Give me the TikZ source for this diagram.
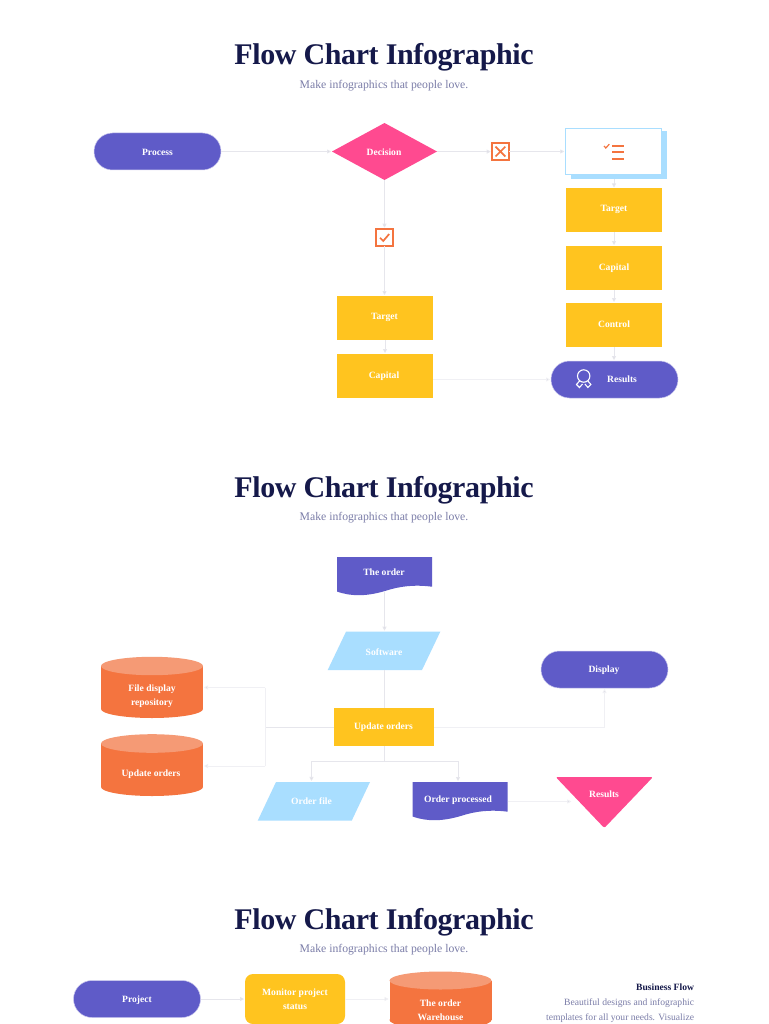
\documentclass[tikz,border=0pt]{standalone}
\usepackage{fontspec}
\setmainfont{Liberation Serif}
\newfontfamily\titlefont[LetterSpace=-1.3]{Liberation Serif Bold}
\usetikzlibrary{arrows.meta}
\definecolor{cpurple}{HTML}{5F5BC8}
\definecolor{cpurpleb}{HTML}{C9C7EE}
\definecolor{cpink}{HTML}{FF4A90}
\definecolor{cyellow}{HTML}{FFC41F}
\definecolor{cblue}{HTML}{A9DEFF}
\definecolor{corange}{HTML}{F4743F}
\definecolor{corangel}{HTML}{F59A75}
\definecolor{cnavy}{HTML}{15194A}
\definecolor{csub}{HTML}{7B7DA8}
\definecolor{cline}{HTML}{E6E6EC}
\definecolor{clinef}{HTML}{F0F0F4}
\definecolor{ctip}{HTML}{DADAE2}
\tikzset{
  x=1pt,y=-1pt,
  every node/.style={inner sep=0pt,outer sep=0pt},
  maintitle/.style={anchor=base,text=cnavy,font=\titlefont\fontsize{30}{36}\selectfont},
  subtitle/.style={anchor=base,text=csub,font=\fontsize{11.7}{14}\selectfont},
  lbl/.style={text=white,align=center,yshift=-1.2pt,font=\bfseries\fontsize{9.6}{14}\selectfont},
  pill/.style={rectangle,rounded corners=18.5pt,fill=cpurple,draw=cpurpleb,line width=.5pt,minimum width=127pt,minimum height=37pt},
  ybox/.style={rectangle,fill=cyellow,minimum width=96pt,minimum height=44pt},
  ghost/.style={rectangle},
  iconbox/.style={rectangle,draw=corange,fill=white,line width=1.9pt,minimum size=17.5pt},
  iconline/.style={draw=corange,line width=1.7pt},
  conn/.style={draw=cline,line width=.8pt,shorten >=1pt,-{Triangle[length=4pt,width=4pt,fill=ctip]}},
  connf/.style={draw=clinef,line width=.8pt,shorten >=1pt,-{Triangle[length=4pt,width=4pt,fill=ctip]}},
  plain/.style={draw=cline,line width=.8pt},
  plainf/.style={draw=clinef,line width=.8pt},
}
\begin{document}
\begin{tikzpicture}
\useasboundingbox (0,0) rectangle (768,1024);
\clip (0,0) rectangle (768,1024);
\fill[white] (0,0) rectangle (768,1024);

% ---------- section 1
\node[maintitle] (t1) at (384,65) {Flow Chart Infographic};
\node[subtitle] (s1) at (384,88.5) {Make infographics that people love.};

\node[pill] (process) at (157.5,151.5) {};
\node[lbl] (processt) at (157.5,151) {Process};
\fill[cpink] (332,151.5) -- (384.5,123) -- (437,151.5) -- (384.5,180) -- cycle;
\node[ghost,minimum width=105pt,minimum height=57pt] (decision) at (384.5,151.5) {};
\node[lbl] (decisiont) at (384,151.5) {Decision};
\node[iconbox] (xbox) at (500.4,151.6) {};
\draw[iconline] (495.5,146.7) -- (505.3,156.5) (505.3,146.7) -- (495.5,156.5);
\node[rectangle,fill=cblue,minimum width=96pt,minimum height=48pt] (cardshadow) at (619,155.5) {};
\node[rectangle,fill=white,draw=cblue,line width=.9pt,minimum width=96.5pt,minimum height=46pt] (card) at (613.5,151.5) {};
\draw[iconline,line width=1.2pt] (604,146) -- (605.8,148) -- (609.3,144.2);
\draw[iconline] (612,145.8) -- (624,145.8) (612,152.3) -- (624,152.3) (612,159) -- (624,159);
\node[ybox] (r1) at (614,210.5) {};
\node[lbl] (r1t) at (614,208.5) {Target};
\node[ybox] (r2) at (614,268) {};
\node[lbl] (r2t) at (614,266.5) {Capital};
\node[ybox] (r3) at (614,325) {};
\node[lbl] (r3t) at (614,323.5) {Control};
\node[pill] (results1) at (614.5,379.5) {};
\node[lbl] (results1t) at (622,378.5) {Results};
\draw[white,line width=1.1pt] (583.7,376) circle[radius=6.2];
\draw[white,line width=1.1pt] (579.5,381) -- (576.5,384.5) -- (579.5,387.5) -- (582.5,384) (587.9,381) -- (590.9,384.5) -- (587.9,387.5) -- (584.9,384);
\node[iconbox] (cbox) at (384.5,237.5) {};
\draw[iconline] (380,237.8) -- (383.2,241) -- (389.2,234);
\node[ybox] (l1) at (385,318) {};
\node[lbl] (l1t) at (384.5,316.5) {Target};
\node[ybox] (l2) at (385,376) {};
\node[lbl] (l2t) at (384,375) {Capital};

\draw[conn] (process.east) -- (decision.west);
\draw[conn] (decision.east) -- (xbox.west);
\draw[conn] (xbox.east) -- (card.west);
\draw[conn] (cardshadow.south -| r1.north) -- (r1.north);
\draw[conn] (r1.south) -- (r2.north);
\draw[conn] (r2.south) -- (r3.north);
\draw[conn] (r3.south) -- (r3.south |- results1.north);
\draw[conn] (decision.south) -- (cbox.north);
\draw[conn] (cbox.south) -- (cbox.south |- l1.north);
\draw[conn] (l1.south) -- (l2.north);
\draw[connf] (l2.east |- results1.west) -- (results1.west);

% ---------- section 2
\node[maintitle] (t2) at (384,497.5) {Flow Chart Infographic};
\node[subtitle] (s2) at (384,520.5) {Make infographics that people love.};

\fill[cpurple] (337,557) -- (432,557) -- (432,586.7) .. controls (415,584.5) and (400,586) .. (385,591) .. controls (368,596) and (352,597) .. (337,591.5) -- cycle;
\node[ghost,minimum width=95pt,minimum height=34pt] (order) at (384.5,574) {};
\node[lbl] (ordert) at (384,571.5) {The order};
\fill[cblue] (346,631.7) -- (440.3,631.7) -- (422,670) -- (327.7,670) -- cycle;
\node[ghost,minimum width=112pt,minimum height=38.3pt] (soft) at (384,650.8) {};
\node[lbl] (softt) at (384,650.5) {Software};

\fill[corange] (152,709) ellipse[x radius=51,y radius=9];
\fill[corange] (101,666) rectangle (203,709);
\fill[corangel] (152,666) ellipse[x radius=51,y radius=9.2];
\node[ghost,minimum width=102pt,minimum height=43pt] (cyl1) at (152,687.5) {};
\node[lbl] (cyl1t) at (152,695) {File display\\repository};
\fill[corange] (152,787) ellipse[x radius=51,y radius=9];
\fill[corange] (101,743.5) rectangle (203,787);
\fill[corangel] (152,743.5) ellipse[x radius=51,y radius=9.3];
\node[ghost,minimum width=102pt,minimum height=44pt] (cyl2) at (152,766) {};
\node[lbl] (cyl2t) at (151,773) {Update orders};

\node[rectangle,fill=cyellow,minimum width=100.3pt,minimum height=38.7pt] (update) at (384.2,727) {};
\node[lbl] (updatet) at (383.5,725.5) {Update orders};
\node[pill] (display) at (604.5,669.5) {};
\node[lbl] (displayt) at (604,669) {Display};

\fill[cblue] (276,782) -- (370,782) -- (351.7,820.7) -- (257.7,820.7) -- cycle;
\node[ghost,minimum width=112pt,minimum height=38.7pt] (ofile) at (311.5,801.3) {};
\node[lbl] (ofilet) at (311.5,800) {Order file};

\fill[cpurple] (412.7,782) -- (507.7,782) -- (507.7,811.7) .. controls (490.7,809.5) and (475.7,811) .. (460.7,816) .. controls (443.7,821) and (427.7,822) .. (412.7,816.5) -- cycle;
\node[ghost,minimum width=95pt,minimum height=39pt] (oproc) at (460.2,801.5) {};
\node[lbl] (oproct) at (458,799) {Order processed};

\fill[cpink,rounded corners=2pt] (555.7,777) -- (653,777) -- (604.3,828) -- cycle;
\node[ghost,minimum width=64pt,minimum height=48pt] (tri) at (604.3,801.5) {};
\node[lbl] (trit) at (604,793.5) {Results};

\draw[conn] (order.south) -- (order.south |- soft.north);
\draw[plain] (soft.south) -- (soft.south |- update.north);
\coordinate (jl) at (265,727);
\draw[plain] (update.west) -- (jl);
\draw[plainf] (jl) -- (jl |- cyl1.east);
\draw[connf] (jl |- cyl1.east) -- (cyl1.east);
\draw[plainf] (jl) -- (jl |- cyl2.east);
\draw[connf] (jl |- cyl2.east) -- (cyl2.east);
\draw[connf] (update.east) -| (display.south);
\coordinate (jb) at (384.2,761.5);
\draw[plain] (update.south) -- (jb);
\draw[conn] (jb) -| (ofile.north);
\draw[conn] (jb) -| (oproct.north |- oproc.north);
\draw[connf] (oproc.east) -- (tri.west);

% ---------- section 3
\node[maintitle] (t3) at (384,929.5) {Flow Chart Infographic};
\node[subtitle] (s3) at (384,952.5) {Make infographics that people love.};

\node[pill] (project) at (137,999) {};
\node[lbl] (projectt) at (137,999) {Project};
\node[rectangle,rounded corners=8pt,fill=cyellow,minimum width=100pt,minimum height=50pt] (monitor) at (295,999) {};
\node[lbl] (monitort) at (295,998.5) {Monitor project\\status};
\fill[corange] (440.5,1020) ellipse[x radius=51,y radius=9];
\fill[corange] (389.5,980.5) rectangle (491.5,1020);
\fill[corangel] (440.5,980.5) ellipse[x radius=51,y radius=9];
\node[ghost,minimum width=102pt,minimum height=37pt] (cyl3) at (440.5,999) {};
\node[lbl] (cyl3t) at (440.5,1009) {The order\\Warehouse};

\draw[conn] (project.east) -- (monitor.west);
\draw[connf] (monitor.east) -- (cyl3.west);

\node[anchor=base east,text=cnavy,font=\bfseries\fontsize{9.6}{14}\selectfont] (bf) at (694,990) {Business Flow};
\node[anchor=base east,text=csub,font=\fontsize{9.6}{14}\selectfont] (bf1) at (694,1005.5) {Beautiful designs and infographic};
\node[anchor=base east,text=csub,font=\fontsize{9.6}{14}\selectfont] (bf2) at (694,1020.5) {templates for all your needs. Visualize};
\end{tikzpicture}
\end{document}
